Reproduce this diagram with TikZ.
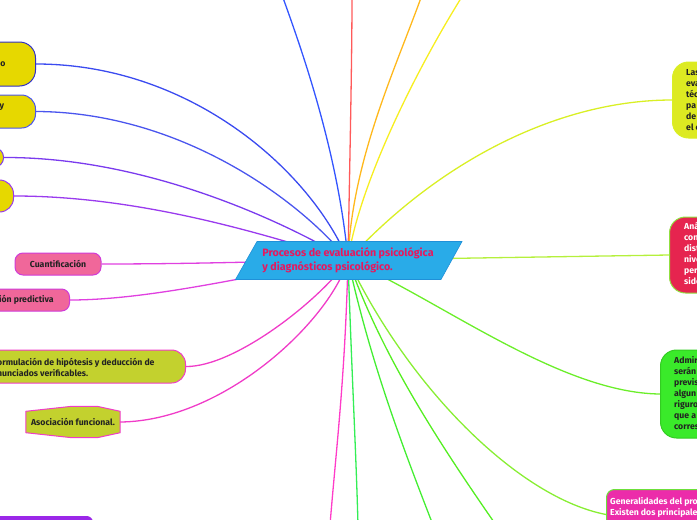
\documentclass[tikz,border=0pt]{standalone}
\usepackage{fontspec}
\setmainfont{Fira Sans}
\usetikzlibrary{calc}
\definecolor{ylw}{HTML}{E6D800}
\definecolor{blueT}{HTML}{3355FF}
\definecolor{blueA}{HTML}{3B4BF0}
\definecolor{blueB}{HTML}{4A55EE}
\definecolor{blueBd}{HTML}{3030C8}
\definecolor{purA}{HTML}{7B3BEE}
\definecolor{purB}{HTML}{9A3BEE}
\definecolor{magA}{HTML}{E040E0}
\definecolor{pinkF}{HTML}{F0679A}
\definecolor{pinkBd}{HTML}{D03BD8}
\definecolor{olive}{HTML}{C3D12E}
\definecolor{magB}{HTML}{F03CC8}
\definecolor{cyanF}{HTML}{29ABE8}
\definecolor{cyanBd}{HTML}{2090D8}
\definecolor{ctext}{HTML}{E8175D}
\definecolor{redL}{HTML}{FF5A5A}
\definecolor{orangeL}{HTML}{FFB81C}
\definecolor{yellowL}{HTML}{F7EE20}
\definecolor{limeL}{HTML}{D9EF25}
\definecolor{limeF}{HTML}{DDEA22}
\definecolor{redF}{HTML}{E6244F}
\definecolor{redBd}{HTML}{90E040}
\definecolor{greenF}{HTML}{3AEA2A}
\definecolor{greenBd}{HTML}{33CC22}
\definecolor{pinkN}{HTML}{EC2CAA}
\definecolor{pinkNBd}{HTML}{6CE03A}
\definecolor{magC}{HTML}{FF3CC8}
\definecolor{grA}{HTML}{33EE55}
\definecolor{grB}{HTML}{44EE33}
\definecolor{grC}{HTML}{55EE22}
\definecolor{grD}{HTML}{88EE33}
\definecolor{rconA}{HTML}{B5F03C}
\definecolor{rconB}{HTML}{6BEE2A}
\definecolor{purBar}{HTML}{9B27E8}
\definecolor{darktxt}{HTML}{222222}
\pgfdeclarelayer{bg}
\pgfdeclarelayer{mid}
\pgfsetlayers{bg,mid,main}
\begin{document}
\begin{tikzpicture}[x=1pt,y=-1pt,
  conn/.style={line width=1.3pt},
  boxn/.style={draw, line width=1pt, rounded corners=#1, inner sep=0pt},
  lbl/.style={font=\fontsize{8.7}{11}\selectfont\bfseries, text=darktxt, inner sep=0pt},
  rtext/.style={font=\fontsize{8.7}{11}\selectfont\bfseries, inner sep=0pt, align=left, anchor=north west},
]
\useasboundingbox (0,0) rectangle (697,520);
\clip (0,0) rectangle (697,520);

% central node
\path[fill=cyanF, draw=cyanBd, line width=0.6pt] (257,241.5) -- (462,241.5) -- (441,279.5) -- (235.5,279.5) -- cycle;
\node[font=\fontsize{10.7}{14}\selectfont\bfseries, text=ctext, align=left, inner sep=0pt] (root) at (348,260) {Procesos de evaluación psicológica\\y diagnósticos psicológico.};

% free ends
\coordinate (t1) at (282,-5);
\coordinate (t2) at (352,-5);
\coordinate (t3) at (422,-5);
\coordinate (t4) at (463,-5);
\coordinate (b1) at (330,525);
\coordinate (b2) at (358,525);
\coordinate (b3) at (433,525);
\coordinate (b4) at (496,525);

% left nodes
\node[boxn=16pt, fill=ylw, draw=blueBd, minimum width=120pt, minimum height=44pt, anchor=east] (l1) at (36,64) {};
\node[lbl] (l1t) at (3,64) {o};
\node[boxn=14pt, fill=ylw, draw=blueB, minimum width=120pt, minimum height=33pt, anchor=east] (l2) at (36,111.5) {};
\node[lbl] (l2t) at (2,107) {y};
\node[boxn=9pt, fill=ylw, draw=purA, minimum width=60pt, minimum height=19pt, anchor=east] (l3) at (4,157.5) {};
\node[boxn=14pt, fill=ylw, draw=purB, minimum width=80pt, minimum height=32pt, anchor=east] (l4) at (14,196) {};

\node[boxn=8pt, fill=pinkF, draw=pinkBd, minimum width=86pt, minimum height=22pt, lbl] (p1) at (58,264) {Cuantificación};
\node[boxn=8pt, fill=pinkF, draw=pinkBd, minimum width=120pt, minimum height=22pt, anchor=east] (p2) at (70,300) {};
\node[lbl, anchor=west] (p2t) at (-1,300) {ión predictiva};

\node[boxn=14pt, fill=olive, draw=magB, minimum width=220pt, minimum height=33pt, anchor=east] (o1) at (186,366.5) {};
\node[lbl, align=left, anchor=west] (o1t) at (-3,367) {ormulación de hipótesis y deducción de\\nunciados verificables.};

\node[lbl, minimum width=94pt, minimum height=31pt] (h1) at (73,422) {Asociación funcional.};
\begin{pgfonlayer}{mid}
\path[fill=olive, draw=magB, line width=1pt]
  ($(h1.north west)+(0,5)$) -- ($(h1.north west)+(46,0)$) -- ($(h1.north east)+(-23,0)$) -- ($(h1.north east)+(0,5)$)
  -- ($(h1.south east)+(0,-5)$) -- ($(h1.south east)+(-23,0)$) -- ($(h1.south west)+(46,0)$) -- ($(h1.south west)+(0,-5)$) -- cycle;
\end{pgfonlayer}

\node[boxn=6pt, fill=purBar, draw=purBar, minimum width=102pt, minimum height=20pt, anchor=north west] (bar) at (-10,516) {};

% right nodes
\node[boxn=16pt, fill=limeF, draw=limeL, minimum width=100pt, minimum height=76pt, anchor=west] (r1) at (672,100) {};
\node[rtext, text=darktxt] (r1t) at (686,69) {Las\\eva\\téc\\pa\\de\\el c};
\node[boxn=16pt, fill=redF, draw=redBd, minimum width=100pt, minimum height=76pt, anchor=west] (r2) at (669,255) {};
\node[rtext, text=white] (r2t) at (684,222) {Aná\\con\\dist\\nive\\per\\sido};
\node[boxn=16pt, fill=greenF, draw=greenBd, minimum width=100pt, minimum height=88pt, anchor=west] (r3) at (660,394) {};
\node[rtext, text=darktxt] (r3t) at (674,356) {Admir\\serán\\previs\\algun\\riguro\\que a\\corres};
\node[boxn=8pt, fill=pinkN, draw=pinkNBd, minimum width=150pt, minimum height=50pt, anchor=north west] (r4) at (606,489) {};
\node[rtext, text=white] (r4t) at (610,497.5) {Generalidades del pro\\Existen dos principale};

% connectors
\begin{pgfonlayer}{bg}
\draw[conn, blueT] (root.center) .. controls (338,150) and (300,45) .. (t1);
\draw[conn, redL] (root.center) .. controls (350,150) and (352,60) .. (t2);
\draw[conn, orangeL] (root.center) .. controls (352,160) and (395,70) .. (t3);
\draw[conn, yellowL] (root.center) .. controls (358,190) and (410,80) .. (t4);
\draw[conn, limeL] (root.center) .. controls (440,160) and (560,100) .. (r1.west);
\draw[conn, rconA] (root.center) -- (r2.west);
\draw[conn, rconB] (root.center) .. controls (440,300) and (560,393) .. (r3.west);
\draw[conn, grD] (root.center) .. controls (410,390) and (520,498) .. (r4.west);
\draw[conn, magC] (root.center) .. controls (345,380) and (336,450) .. (b1);
\draw[conn, grA] (root.center) .. controls (352,380) and (356,450) .. (b2);
\draw[conn, grB] (root.center) .. controls (370,360) and (400,440) .. (b3);
\draw[conn, grC] (root.center) .. controls (380,350) and (430,430) .. (b4);
\draw[conn, blueA] (l1.east) .. controls (190,64) and (310,170) .. (root.center);
\draw[conn, blueB] (l2.east) .. controls (180,112) and (300,200) .. (root.center);
\draw[conn, purA] (l3.east) .. controls (150,157) and (290,225) .. (root.center);
\draw[conn, purB] (l4.east) .. controls (150,196) and (280,240) .. (root.center);
\draw[conn, magA] (p1.east) .. controls (200,264) and (280,261) .. (root.center);
\draw[conn, magA] (p2.east) .. controls (160,300) and (280,268) .. (root.center);
\draw[conn, magB] (o1.east) .. controls (235,367) and (320,300) .. (root.center);
\draw[conn, magB] (h1.east) .. controls (225,421) and (330,320) .. (root.center);
\end{pgfonlayer}
\end{tikzpicture}
\end{document}
